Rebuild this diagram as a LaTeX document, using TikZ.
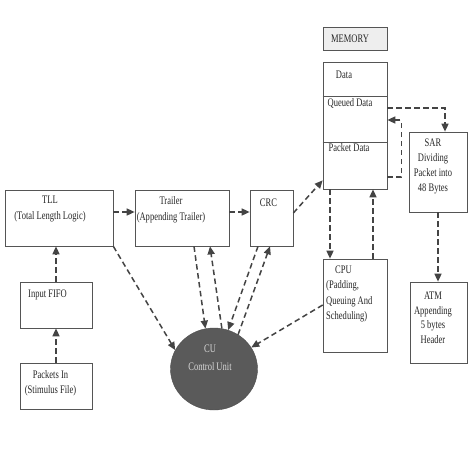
\documentclass[tikz,border=0pt]{standalone}
\usepackage{fontspec}
\newfontfamily\cond[FakeStretch=0.74]{Liberation Serif}
\usetikzlibrary{arrows.meta,shapes.geometric}
\definecolor{linegray}{HTML}{444444}
\definecolor{boxgray}{HTML}{555555}
\definecolor{cugray}{HTML}{5A5A5A}
\definecolor{labelfill}{HTML}{EEEEEE}
\begin{document}
\begin{tikzpicture}[x=1pt,y=-1pt,
  box/.style={draw=boxgray,line width=0.7pt,inner sep=0pt},
  lbl/.style={font={\cond\fontsize{11.5}{15.5}\selectfont},text=black!85,inner sep=0pt,align=center},
  conn/.style={draw=linegray,line width=1.5pt,dash pattern=on 5.5pt off 3.5pt,-{Triangle[length=8pt,width=7pt]}}
]
\useasboundingbox[fill=white] (0,0) rectangle (474,474);

% boxes
\node[box,minimum width=108,minimum height=56] (tll) at (59,218) {};
\node[box,minimum width=94,minimum height=56] (trailer) at (182,218) {};
\node[box,minimum width=43,minimum height=56] (crc) at (271.5,218) {};
\node[box,fill=labelfill,minimum width=64,minimum height=23] (memlbl) at (355,38.5) {};
\node[box,minimum width=64,minimum height=127] (mem) at (355,125.5) {};
\node[box,minimum width=58,minimum height=80] (sar) at (438,172) {};
\node[box,minimum width=64,minimum height=93] (cpu) at (355,305.5) {};
\node[box,minimum width=57,minimum height=81] (atm) at (438.5,322.5) {};
\node[box,minimum width=72,minimum height=46] (fifo) at (56,305) {};
\node[box,minimum width=72,minimum height=46] (pin) at (56,386) {};
\node[ellipse,draw=black!70,fill=cugray,minimum width=87,minimum height=82,inner sep=0pt] (cu) at (214,369) {};

% memory dividers
\draw[boxgray,line width=0.7pt] ([yshift=-35pt]mem.north west) -- ([yshift=-35pt]mem.north east);
\draw[boxgray,line width=0.7pt] ([yshift=-81pt]mem.north west) -- ([yshift=-81pt]mem.north east);

% texts
\node[lbl] (t-tll) at (50,209) {TLL\\(Total Length Logic)};
\node[lbl] (t-trailer) at (171,209.5) {Trailer\\(Appending Trailer)};
\node[lbl] (t-crc) at (268.5,203) {CRC};
\node[lbl] (t-memlbl) at (350,39) {MEMORY};
\node[lbl] (t-data) at (344,75) {Data};
\node[lbl] (t-queued) at (350,103) {Queued Data};
\node[lbl] (t-packet) at (349,148) {Packet Data};
\node[lbl,font={\cond\fontsize{11.5}{15}\selectfont}] (t-sar) at (433,166.5) {SAR\\Dividing\\Packet into\\48 Bytes};
\node[lbl,align=left,anchor=west] (t-cpu) at (326,294) {\hspace{9pt}CPU\\(Padding,\\Queuing And\\Scheduling)};
\node[lbl,font={\cond\fontsize{11.5}{14.5}\selectfont}] (t-atm) at (433,318) {ATM\\Appending\\5 bytes\\Header};
\node[lbl] (t-fifo) at (47.5,295) {Input FIFO};
\node[lbl] (t-pin) at (50.5,383) {Packets In\\(Stimulus File)};
\node[lbl,text=white!85!black,font={\cond\fontsize{11.5}{18}\selectfont}] (t-cu) at (210,358) {CU\\Control Unit};

% connectors
\draw[conn] ([yshift=6pt]tll.east) -- ([yshift=6pt]trailer.west);
\draw[conn] ([yshift=6pt]trailer.east) -- ([yshift=6pt]crc.west);
\draw[conn] ([yshift=5pt]crc.east) -- ([yshift=9pt]mem.south west);
\draw[conn] ([yshift=17.5pt]mem.east) -| ([xshift=7pt]sar.north);
\draw[conn] ([yshift=-51.5pt]mem.east) -- ++(14,0) |- ([yshift=5.5pt]mem.east);
\draw[conn] ([xshift=-25pt]mem.south) -- ([xshift=-25pt]cpu.north);
\draw[conn] ([xshift=18pt]cpu.north) -- ([xshift=18pt]mem.south);
\draw[conn] (sar.south) -- (sar.south |- atm.north);
\draw[conn] (pin.north) -- (fifo.south);
\draw[conn] (fifo.north) -- (fifo.north |- tll.south);
\draw[conn] (tll.south east) -- (cu.154);
\draw[conn] ([xshift=12pt]trailer.south) -- (cu.102);
\draw[conn] (cu.79) -- ([xshift=28pt]trailer.south);
\draw[conn] ([xshift=-13.5pt]crc.south) -- (cu.70);
\draw[conn] (cu.55) -- ([xshift=-1.5pt]crc.south);
\draw[conn] ([yshift=0.5pt]cpu.west) -- (cu.30);
\end{tikzpicture}
\end{document}
